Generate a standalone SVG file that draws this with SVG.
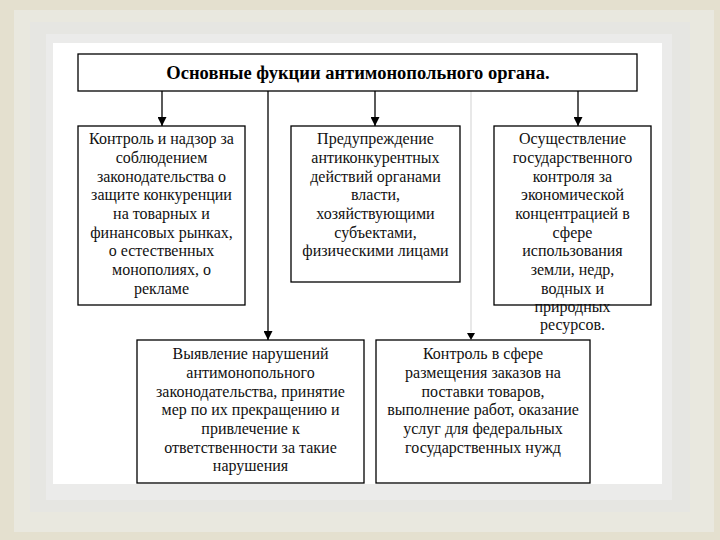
<svg xmlns="http://www.w3.org/2000/svg" width="720" height="540" viewBox="0 0 720 540">
<defs>
<style>
.box{fill:#fff;stroke:#000;stroke-width:1.3}
.t{font-family:"Liberation Serif","Times New Roman",serif;font-size:16px;fill:#111;text-anchor:middle}
.title{font-family:"Liberation Serif","Times New Roman",serif;font-size:18.5px;font-weight:bold;fill:#000;text-anchor:middle}
.c{stroke:#000;stroke-width:1.3;fill:none}
.cf{stroke:#dcdcdc;stroke-width:1.3;fill:none}
</style>
<marker id="ah" viewBox="0 0 10 10" refX="10" refY="5" markerWidth="9" markerHeight="9" markerUnits="userSpaceOnUse" orient="auto">
<path d="M0,0 L10,5 L0,10 z" fill="#000"/>
</marker>
</defs>
<rect x="0" y="0" width="720" height="540" fill="#e4e0cf"/>
<rect x="14" y="10" width="700" height="522" fill="#e9e8df"/>
<rect x="30" y="22" width="660" height="490" fill="#e6e6e2"/>
<rect x="46" y="34" width="626" height="466" fill="#ebebea"/>
<rect x="53" y="43" width="609" height="441" fill="#ffffff"/>

<g id="connectors">
<line class="c" x1="162" y1="91" x2="162" y2="126" marker-end="url(#ah)"/>
<line class="c" x1="268" y1="91" x2="268" y2="340" marker-end="url(#ah)"/>
<line class="c" x1="375" y1="91" x2="375" y2="126" marker-end="url(#ah)"/>
<line class="c" x1="578" y1="91" x2="578" y2="126" marker-end="url(#ah)"/>
<line class="cf" x1="471" y1="91" x2="471" y2="332"/>
<path d="M467,333 L475,333 L471,340 z" fill="#000"/>
</g>

<g id="title">
<rect class="box" x="78" y="54" width="559" height="37"/>
<text class="title" x="358" y="79">Основные фукции антимонопольного органа.</text>
</g>

<g id="n1">
<rect class="box" x="78" y="126" width="167" height="179"/>
<text class="t" x="161.5" y="144">Контроль и надзор за</text>
<text class="t" x="161.5" y="163">соблюдением</text>
<text class="t" x="161.5" y="182">законодательства о</text>
<text class="t" x="161.5" y="200">защите конкуренции</text>
<text class="t" x="161.5" y="219">на товарных и</text>
<text class="t" x="161.5" y="238">финансовых рынках,</text>
<text class="t" x="161.5" y="256">о естественных</text>
<text class="t" x="161.5" y="275">монополиях, о</text>
<text class="t" x="161.5" y="294">рекламе</text>
</g>

<g id="n2">
<rect class="box" x="291" y="126" width="169" height="156"/>
<text class="t" x="375.5" y="144">Предупреждение</text>
<text class="t" x="375.5" y="163">антиконкурентных</text>
<text class="t" x="375.5" y="182">действий органами</text>
<text class="t" x="375.5" y="200">власти,</text>
<text class="t" x="375.5" y="219">хозяйствующими</text>
<text class="t" x="375.5" y="238">субъектами,</text>
<text class="t" x="375.5" y="256">физическими лицами</text>
</g>

<g id="n3">
<rect class="box" x="494" y="126" width="157" height="179"/>
<text class="t" x="572.5" y="144">Осуществление</text>
<text class="t" x="572.5" y="163">государственного</text>
<text class="t" x="572.5" y="182">контроля за</text>
<text class="t" x="572.5" y="200">экономической</text>
<text class="t" x="572.5" y="219">концентрацией в</text>
<text class="t" x="572.5" y="238">сфере</text>
<text class="t" x="572.5" y="256">использования</text>
<text class="t" x="572.5" y="275">земли, недр,</text>
<text class="t" x="572.5" y="294">водных и</text>
<text class="t" x="572.5" y="312">природных</text>
<text class="t" x="572.5" y="330">ресурсов.</text>
</g>

<g id="n4">
<rect class="box" x="137" y="340" width="227" height="143"/>
<text class="t" x="250.5" y="359">Выявление нарушений</text>
<text class="t" x="250.5" y="378">антимонопольного</text>
<text class="t" x="250.5" y="397">законодательства, принятие</text>
<text class="t" x="250.5" y="415">мер по их прекращению и</text>
<text class="t" x="250.5" y="434">привлечение к</text>
<text class="t" x="250.5" y="453">ответственности за такие</text>
<text class="t" x="250.5" y="471">нарушения</text>
</g>

<g id="n5">
<rect class="box" x="376" y="340" width="214" height="143"/>
<text class="t" x="483" y="359">Контроль в сфере</text>
<text class="t" x="483" y="378">размещения заказов на</text>
<text class="t" x="483" y="397">поставки товаров,</text>
<text class="t" x="483" y="415">выполнение работ, оказание</text>
<text class="t" x="483" y="434">услуг для федеральных</text>
<text class="t" x="483" y="453">государственных нужд</text>
</g>
</svg>
